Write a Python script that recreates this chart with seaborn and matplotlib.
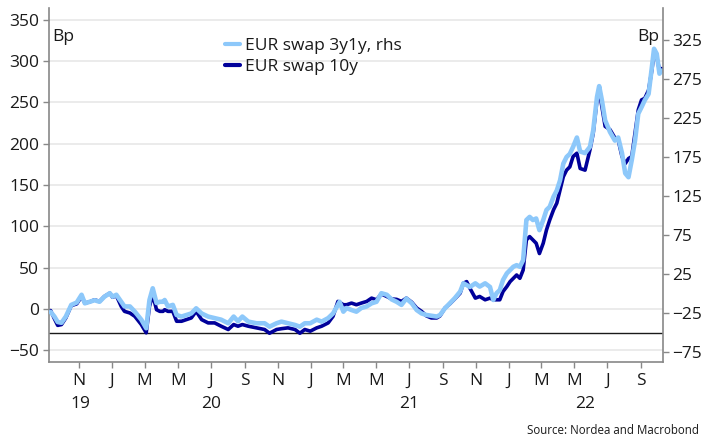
import pandas as pd
import numpy as np
import matplotlib
matplotlib.use('Agg')
import matplotlib.pyplot as plt
import matplotlib.dates as mdates
import seaborn as sns

# Dates of the readings
dates = [
    '2019-09-10', '2019-09-17', '2019-09-23', '2019-09-30', '2019-10-08', '2019-10-18', '2019-10-28',
    '2019-11-06', '2019-11-12', '2019-11-21', '2019-11-30', '2019-12-09', '2019-12-18', '2019-12-28',
    '2020-01-02', '2020-01-09', '2020-01-18', '2020-01-24', '2020-02-03', '2020-02-12', '2020-02-24',
    '2020-03-04', '2020-03-10', '2020-03-16', '2020-03-23', '2020-03-29', '2020-04-04', '2020-04-07',
    '2020-04-13', '2020-04-22', '2020-04-29', '2020-05-08', '2020-05-17', '2020-05-26', '2020-06-04',
    '2020-06-14', '2020-06-26', '2020-07-08', '2020-07-20', '2020-08-02', '2020-08-12', '2020-08-20',
    '2020-08-28', '2020-09-08', '2020-09-23', '2020-10-08', '2020-10-17', '2020-10-30', '2020-11-08',
    '2020-11-20', '2020-12-03', '2020-12-12', '2020-12-21', '2020-12-31', '2021-01-12', '2021-01-21',
    '2021-02-02', '2021-02-11', '2021-02-20', '2021-02-23', '2021-03-02', '2021-03-08', '2021-03-17',
    '2021-03-26', '2021-04-04', '2021-04-14', '2021-04-23', '2021-05-02', '2021-05-11', '2021-05-21',
    '2021-05-30', '2021-06-08', '2021-06-17', '2021-06-26', '2021-07-06', '2021-07-15', '2021-07-24',
    '2021-08-02', '2021-08-11', '2021-08-21', '2021-08-27', '2021-09-05', '2021-09-14', '2021-09-23',
    '2021-10-03', '2021-10-09', '2021-10-15', '2021-10-21', '2021-10-31', '2021-11-08', '2021-11-18',
    '2021-11-27', '2021-12-03', '2021-12-09', '2021-12-15', '2021-12-21', '2021-12-28', '2022-01-03',
    '2022-01-09', '2022-01-15', '2022-01-21', '2022-01-27', '2022-02-02', '2022-02-08', '2022-02-14',
    '2022-02-20', '2022-02-26', '2022-03-05', '2022-03-11', '2022-03-17', '2022-03-24', '2022-03-30',
    '2022-04-05', '2022-04-11', '2022-04-17', '2022-04-23', '2022-04-29', '2022-05-06', '2022-05-12',
    '2022-05-21', '2022-05-30', '2022-06-05', '2022-06-12', '2022-06-16', '2022-06-21', '2022-06-27',
    '2022-07-06', '2022-07-15', '2022-07-21', '2022-07-28', '2022-08-03', '2022-08-09', '2022-08-15',
    '2022-08-21', '2022-08-27', '2022-09-02', '2022-09-08', '2022-09-15', '2022-09-21', '2022-09-25',
    '2022-09-30', '2022-10-05', '2022-10-09',
]

# EUR swap 10y, bp (left axis)
swap_10y = [
    -2, -12, -20, -19, -11, 4, 6,
    15, 7, 8.5, 11, 9, 15, 19,
    14, 16, 3, -3, -5, -9, -19,
    -29, 3, 17, -1, -3, -3, -1,
    -3, -3, -15, -15, -13, -11, -3,
    -13, -17, -17, -21, -25, -19, -21,
    -19, -21, -23, -25, -29.5, -25, -24,
    -23, -25, -29.5, -25, -27, -23, -21,
    -17, -9, 9, 8, 5, 5, 7,
    5, 7, 9, 13, 11, 18, 15,
    12, 11.5, 9, 13, 8, 1, -3,
    -8.5, -11, -11, -8.5, 1, 6, 12,
    19, 31, 33, 25, 13, 15, 11,
    13, 11, 11, 11, 21, 27, 33,
    37, 41, 37, 47, 83.5, 87.5, 83.5,
    79.5, 67, 79.5, 95.6, 107.7, 120, 128,
    144, 160, 168, 172, 184.5, 188.5, 170,
    168, 192.5, 212.6, 253, 265, 245, 221,
    217, 207, 204.6, 184.5, 176, 182, 184.5,
    212.6, 241, 253, 255, 265, 289, 309.7,
    305, 289, 291,
]

# EUR swap 3y1y, bp (right axis)
swap_3y1y = [
    -24, -30, -37, -38, -30, -15, -12,
    -2, -13, -11, -9, -11, -4.5, 0,
    -4.5, -2, -11, -17, -17, -23.6, -34,
    -45, -8.7, 6.3, -12.6, -11, -11, -8.7,
    -17, -15, -28, -30, -28, -26, -19.4,
    -26, -30, -32, -34, -38.6, -30, -36,
    -30, -36.5, -38.6, -38.6, -43, -38.6, -36.5,
    -38.6, -40.8, -43, -38.6, -38.6, -34, -36.5,
    -32, -26, -15, -11, -23.7, -19, -21.6,
    -23.7, -19, -17, -13, -11, 0, -2,
    -8, -11, -15, -6.8, -13, -21.6, -26,
    -28, -29, -30, -28, -19.4, -13, -6.5,
    2, 12.7, 10.5, 8, 12.7, 8.5, 12.7,
    8, -8.7, 0, 4, 17, 25.5, 29.7,
    34, 36, 34, 42.5, 94, 98, 94,
    96, 81, 94, 107, 111, 124, 132,
    145, 166.5, 175, 179, 188, 200, 182,
    180, 188, 209, 252, 266, 248, 222,
    207, 196, 200, 180, 154, 149, 171,
    196, 230.6, 239, 248, 256, 290, 314,
    307.5, 282, 286,
]

left_ticks = [-50, 0, 50, 100, 150, 200, 250, 300, 350]
right_ticks = [-75, -25, 25, 75, 125, 175, 225, 275, 325]
year_labels = ['19', '20', '21', '22']
year_pos = ['2019-11-03', '2020-07-01', '2021-07-01', '2022-05-22']

df = pd.DataFrame({'Date': pd.to_datetime(dates), 'swap_10y': swap_10y, 'swap_3y1y': swap_3y1y})

light = '#8dc8fa'
dark = '#00009a'
txt = '#1a1a1a'
fs = 12.5

sns.set_theme(style='white')
plt.rcParams['font.family'] = ['Open Sans', 'DejaVu Sans']

fig = plt.figure(figsize=(7.1, 4.48), dpi=100)
ax = fig.add_axes([0.069, 0.1926, 0.8644, 0.7889])
ax2 = ax.twinx()

sns.lineplot(data=df, x='Date', y='swap_10y', ax=ax, color=dark, linewidth=2.6, label='EUR swap 10y', legend=False)
sns.lineplot(data=df, x='Date', y='swap_3y1y', ax=ax2, color=light, linewidth=3.3, label='EUR swap 3y1y, rhs', legend=False)

ax.set_xlim(pd.Timestamp('2019-09-07'), pd.Timestamp('2022-10-11'))
ax.set_ylim(-64, 364)
ax2.set_ylim(-88, 366)
ax.set_yticks(left_ticks)
ax2.set_yticks(right_ticks)
ax.grid(axis='y', color='#e8e8e8', linewidth=1.2)
ax.set_axisbelow(True)
ax.axhline(-29.4, color=txt, linewidth=1, zorder=1)

ax.xaxis.set_major_locator(mdates.MonthLocator(bymonth=[1, 3, 5, 7, 9, 11]))
ax.xaxis.set_major_formatter(plt.FuncFormatter(lambda v, p: mdates.num2date(v).strftime('%b')[0]))

for a in (ax, ax2):
    a.set_xlabel('')
    a.set_ylabel('')
    for s in a.spines.values():
        s.set_visible(False)
    a.tick_params(colors=txt, labelsize=fs, length=4, width=1, direction='out', color='#888888')
ax.spines['left'].set_visible(True)
ax.spines['bottom'].set_visible(True)
ax2.spines['right'].set_visible(True)
for s in (ax.spines['left'], ax.spines['bottom'], ax2.spines['right']):
    s.set_color('#888888')
    s.set_linewidth(1.2)
ax.tick_params(axis='x', pad=4, bottom=True)
ax.tick_params(axis='y', pad=3, left=True)
ax2.tick_params(axis='y', pad=3, right=True)

trans = ax.get_xaxis_transform()
for lab, pos in zip(year_labels, year_pos):
    ax.text(pd.Timestamp(pos), -0.12, lab, transform=trans, ha='center', va='center', fontsize=fs, color=txt)

ax.text(0.006, 0.92, 'Bp', transform=ax.transAxes, ha='left', va='center', fontsize=fs, color=txt)
ax2.text(0.995, 0.92, 'Bp', transform=ax2.transAxes, ha='right', va='center', fontsize=fs, color=txt)

h1, l1 = ax.get_legend_handles_labels()
h2, l2 = ax2.get_legend_handles_labels()
leg = ax2.legend(h2 + h1, l2 + l1, loc='center left', bbox_to_anchor=(0.287, 0.864), frameon=False,
                 fontsize=fs, handlelength=0.85, handletextpad=0.3, labelspacing=0.3,
                 borderpad=0, borderaxespad=0)
for t in leg.get_texts():
    t.set_color(txt)
for h in leg.get_lines():
    h.set_linewidth(3)

fig.text(0.985, 0.04, 'Source: Nordea and Macrobond', ha='right', va='center', fontsize=8.3, color=txt)

plt.savefig('out.png', dpi=100)
